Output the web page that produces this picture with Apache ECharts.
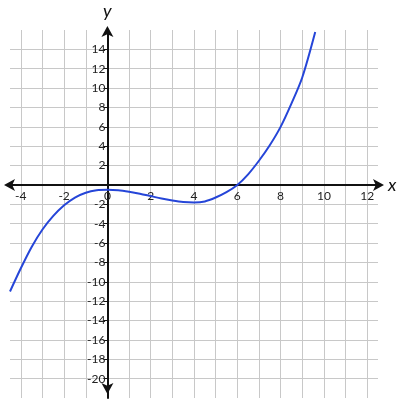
<!DOCTYPE html>
<html><head><meta charset="utf-8">
<script src="https://cdn.jsdelivr.net/npm/echarts@6/dist/echarts.min.js"></script>
<style>html,body{margin:0;padding:0;background:#fff}#c{width:400px;height:407px}</style>
</head><body><div id="c"></div>
<script>
let xs = [-4.5,-4,-3.5,-3,-2.5,-2,-1.5,-1,-0.5,0,0.5,1,1.5,2,2.5,3,3.5,4,4.5,5,5.5,6,6.5,7,7.5,8,8.5,9,9.6];
let ys = [-11,-8.6,-6.4,-4.6,-3.2,-2.1,-1.3,-0.8,-0.55,-0.5,-0.55,-0.7,-0.9,-1.15,-1.4,-1.6,-1.75,-1.8,-1.7,-1.3,-0.75,0,1.1,2.5,4.1,6,8.4,11.1,15.8];
let xLabels = [-4,-2,0,2,4,6,8,10,12];
let yLabels = [-20,-18,-16,-14,-12,-10,-8,-6,-4,-2,2,4,6,8,10,12,14];
let gridX = [], gridY = [];
for (let i = -4; i <= 12; i++) gridX.push(i);
for (let i = -22; i <= 16; i++) gridY.push(i);

let W = 400 - 10 - 22, H = 407 - 30 - 9;
let chart = echarts.init(document.getElementById("c"));
let font = {fontFamily:"Lato", color:"#222", fontSize:12};
chart.setOption({
    animation:false,
    grid:{left:10, right:22, top:30, bottom:9},
    xAxis:{
        type:"value", min:-4.5, max:12.5, position:"bottom", offset:-H*22/38,
        axisLine:{onZero:false, lineStyle:{color:"#111", width:2}, symbol:["arrow","arrow"], symbolSize:[9,11], symbolOffset:[-6,6]},
        axisTick:{show:false, customValues:gridX},
        splitLine:{show:true, lineStyle:{color:"#c8c8c8", width:1}},
        axisLabel:Object.assign({customValues:xLabels, margin:5}, font),
        name:"x", nameGap:10, nameTextStyle:{fontFamily:"Lato", fontStyle:"italic", fontSize:18, color:"#111"}
    },
    yAxis:{
        type:"value", min:-22, max:16, position:"left", offset:-W*4.5/17,
        axisLine:{onZero:false, lineStyle:{color:"#111", width:2}, symbol:["arrow","arrow"], symbolSize:[9,11], symbolOffset:[4,4]},
        axisTick:{show:true, inside:false, length:4, customValues:yLabels, lineStyle:{color:"#111"}},
        splitLine:{show:true, lineStyle:{color:"#c8c8c8", width:1}},
        axisLabel:Object.assign({customValues:yLabels, margin:2}, font),
        name:"y", nameGap:10, nameTextStyle:{fontFamily:"Lato", fontStyle:"italic", fontSize:18, color:"#111"}
    },
    series:[{
        type:"line", smooth:0.3, symbol:"none",
        lineStyle:{color:"#2545d8", width:2},
        data:xs.map((x,i)=>[x,ys[i]])
    }]
});
</script></body></html>
